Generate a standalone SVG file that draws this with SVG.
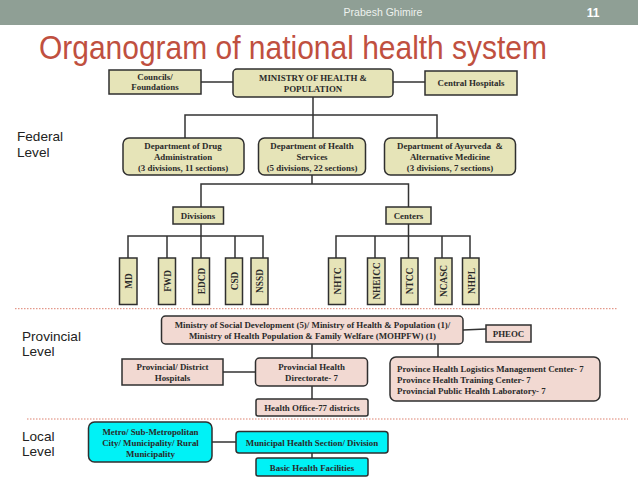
<svg xmlns="http://www.w3.org/2000/svg" width="638" height="478" viewBox="0 0 638 478">
<style>
.b{stroke:#2f2f2f;stroke-width:1.5}
.y{fill:#e6e4b8}
.p{fill:#f2d9d2}
.c{fill:#00f2f6}
.t{font-family:"Liberation Serif",serif;font-weight:bold;font-size:8.9px;fill:#2a2a2a;text-anchor:middle}
.r{font-size:9.300px}
.l{font-family:"Liberation Sans",sans-serif;font-size:13.600px;fill:#222}
#connectors path{fill:none;stroke:#333;stroke-width:1.5}
.d{fill:none;stroke:#d9735f;stroke-width:.9;stroke-dasharray:1.5 1.5}
</style>
<rect width="638" height="25" fill="#8f9f95"/>
<text x="383" y="16" font-family="Liberation Sans,sans-serif" font-size="10.5" fill="#eef2ee" text-anchor="middle">Prabesh Ghimire</text>
<text x="593" y="17" font-family="Liberation Sans,sans-serif" font-size="12" font-weight="bold" fill="#fff" text-anchor="middle">11</text>
<text x="39" y="58.500" font-family="Liberation Sans,sans-serif" font-size="33.5" fill="#c0503f" textLength="508" lengthAdjust="spacingAndGlyphs">Organogram of national health system</text>
<path class="d" d="M15 308.700H617M27 419H628"/>
<text class="l" x="17" y="141">Federal</text><text class="l" x="17" y="157">Level</text>
<text class="l" x="22" y="341">Provincial</text><text class="l" x="22" y="356">Level</text>
<text class="l" x="22" y="441">Local</text><text class="l" x="22" y="456">Level</text>
<g id="connectors">
<path d="M201 82H233M393 82H425M313 97V115M185 138V115H437V138M313 115V138M312 175V184M201 207V184H408.500V207"/>
<path d="M201 224V236M128 258V236H263V258M167 236V258M201 236V258M235 236V258"/>
<path d="M408.500 224V236M336 258V236H470V258M375 236V258M408.500 236V258M442 236V258"/>
<path d="M463 330L486 329M312 344V358M438 344V357M223 372H256M312 386V399M212 442H236M312 453V458"/>
</g>
<g id="councils"><rect class="b y" x="109" y="70" width="92" height="24"/><text class="t"><tspan x="155" y="79.500">Councils/</tspan><tspan x="155" y="90">Foundations</tspan></text></g>
<g id="ministry"><rect class="b y" x="233" y="69" width="160" height="28" rx="4"/><text class="t"><tspan x="313" y="81">MINISTRY OF HEALTH &amp;</tspan><tspan x="313" y="92">POPULATION</tspan></text></g>
<g id="central"><rect class="b y" x="425" y="71" width="92" height="24"/><text class="t" x="471" y="86">Central Hospitals</text></g>
<g id="dept-drug"><rect class="b y" x="123" y="138" width="121" height="37" rx="6"/><text class="t"><tspan x="183" y="149">Department of Drug</tspan><tspan x="183" y="160">Administration</tspan><tspan x="183" y="171">(3 divisions, 11 sections)</tspan></text></g>
<g id="dept-health"><rect class="b y" x="258.500" y="138" width="107" height="37" rx="6"/><text class="t"><tspan x="312" y="149">Department of Health</tspan><tspan x="312" y="160">Services</tspan><tspan x="312" y="171">(5 divisions, 22 sections)</tspan></text></g>
<g id="dept-ayurveda"><rect class="b y" x="384.500" y="138" width="131" height="37" rx="6"/><text class="t" xml:space="preserve"><tspan x="450" y="149">Department of Ayurveda  &amp;</tspan><tspan x="450" y="160">Alternative Medicine</tspan><tspan x="450" y="171">(3 divisions, 7 sections)</tspan></text></g>
<g id="divisions"><rect class="b y" x="173" y="207" width="50.500" height="17"/><text class="t" x="198" y="219">Divisions</text></g>
<g id="centers"><rect class="b y" x="386" y="207" width="45" height="17"/><text class="t" x="408.500" y="219">Centers</text></g>
<g id="md"><rect class="b y" x="119.500" y="258" width="17.500" height="46.500"/><text class="t r" transform="translate(131.500 281) rotate(-90)">MD</text></g>
<g id="fwd"><rect class="b y" x="158.500" y="258" width="17" height="46.500"/><text class="t r" transform="translate(170.500 281) rotate(-90)">FWD</text></g>
<g id="edcd"><rect class="b y" x="192.500" y="258" width="17" height="46.500"/><text class="t r" transform="translate(204.500 281) rotate(-90)">EDCD</text></g>
<g id="csd"><rect class="b y" x="225.500" y="258" width="17" height="46.500"/><text class="t r" transform="translate(237.500 281) rotate(-90)">CSD</text></g>
<g id="nssd"><rect class="b y" x="251" y="258" width="17" height="46.500"/><text class="t r" transform="translate(263 281) rotate(-90)">NSSD</text></g>
<g id="nhtc"><rect class="b y" x="328.500" y="258" width="17" height="46.500"/><text class="t r" transform="translate(340.500 281) rotate(-90)">NHTC</text></g>
<g id="nheicc"><rect class="b y" x="367.500" y="258" width="17.500" height="46.500"/><text class="t r" transform="translate(379.500 281) rotate(-90)">NHEICC</text></g>
<g id="ntcc"><rect class="b y" x="401" y="258" width="17" height="46.500"/><text class="t r" transform="translate(413 281) rotate(-90)">NTCC</text></g>
<g id="ncasc"><rect class="b y" x="435" y="258" width="17" height="46.500"/><text class="t r" transform="translate(447 281) rotate(-90)">NCASC</text></g>
<g id="nhpl"><rect class="b y" x="462.500" y="258" width="16.500" height="46.500"/><text class="t r" transform="translate(474.500 281) rotate(-90)">NHPL</text></g>
<g id="prov-ministry"><rect class="b p" x="161.500" y="316" width="301.500" height="28" rx="4"/><text class="t"><tspan x="312.500" y="328">Ministry of Social Development (5)/ Ministry of Health &amp; Population (1)/</tspan><tspan x="312.500" y="339">Ministry of Health Population &amp; Family Welfare (MOHPFW) (1)</tspan></text></g>
<g id="pheoc"><rect class="b p" x="486" y="325" width="45" height="17"/><text class="t" x="508.500" y="337">PHEOC</text></g>
<g id="prov-hospitals"><rect class="b p" x="122" y="359" width="101" height="26"/><text class="t"><tspan x="172.500" y="370">Provincial/ District</tspan><tspan x="172.500" y="381">Hospitals</tspan></text></g>
<g id="prov-directorate"><rect class="b p" x="255.500" y="358" width="112" height="28" rx="4"/><text class="t"><tspan x="311.500" y="370">Provincial Health</tspan><tspan x="311.500" y="381">Directorate- 7</tspan></text></g>
<g id="prov-centers"><rect class="b p" x="390" y="357" width="210" height="44" rx="6"/><text class="t" style="text-anchor:start"><tspan x="397" y="372">Province Health Logistics Management Center- 7</tspan><tspan x="397" y="383">Province Health Training Center- 7</tspan><tspan x="397" y="394">Provincial Public Health Laboratory- 7</tspan></text></g>
<g id="health-office"><rect class="b p" x="256" y="399" width="112" height="17" rx="2"/><text class="t" x="312" y="411">Health Office-77 districts</text></g>
<g id="metro"><rect class="b c" x="88.500" y="422" width="123.500" height="40" rx="6"/><text class="t"><tspan x="150.500" y="435">Metro/ Sub-Metropolitan</tspan><tspan x="150.500" y="446">City/ Municipality/ Rural</tspan><tspan x="150.500" y="457">Municipality</tspan></text></g>
<g id="municipal"><rect class="b c" x="236" y="431.500" width="152" height="21.500" rx="3"/><text class="t" x="312" y="446">Municipal Health Section/ Division</text></g>
<g id="basic"><rect class="b c" x="256" y="458" width="112" height="18" rx="2"/><text class="t" x="312" y="471">Basic Health Facilities</text></g>
</svg>
